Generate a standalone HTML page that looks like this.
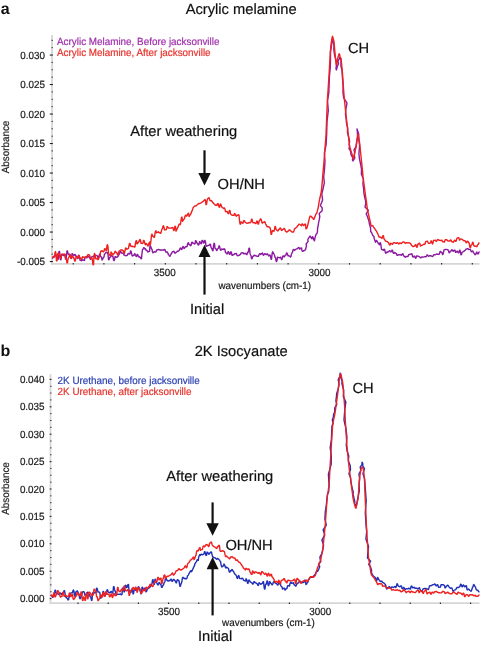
<!DOCTYPE html>
<html><head><meta charset="utf-8"><title>FTIR spectra</title>
<style>
html,body{margin:0;padding:0;background:#fff;}
body{width:482px;height:645px;overflow:hidden;}
svg{display:block;}
text{font-family:"Liberation Sans",Arial,Helvetica,sans-serif;fill:#111;text-rendering:geometricPrecision;}
.t14{font-size:14.7px;stroke:#111;stroke-width:0.2px;}
.t10{font-size:10.4px;fill:#1a1a1a;stroke:#1a1a1a;stroke-width:0.2px;}
.lg{font-size:10.4px;stroke-width:0.2px;}
.lbl{font-size:16px;font-weight:bold;fill:#111;}
.ax{stroke:#d6d6d6;stroke-width:1.8;fill:none;}
.tk{stroke:#222;stroke-width:1.1;}
.tm{stroke:#333;stroke-width:1.0;}
.cv{fill:none;stroke-width:1.4;stroke-linejoin:round;stroke-linecap:round;}
.ar{stroke:#111;stroke-width:2.2;}
</style></head><body>
<svg width="482" height="645" viewBox="0 0 482 645">
<rect width="482" height="645" fill="#fff"/>

<!-- panel a -->
<text x="0.7" y="14.4" class="lbl">a</text>
<text x="241.2" y="13.9" class="t14" text-anchor="middle">Acrylic melamine</text>
<line x1="52.0" y1="35" x2="52.0" y2="264.8" class="ax"/>
<line x1="51.1" y1="263.9" x2="479.5" y2="263.9" class="ax"/>
<line x1="51.5" y1="40.30" x2="52.9" y2="40.30" class="tm"/>
<line x1="51.5" y1="47.67" x2="52.9" y2="47.67" class="tm"/>
<line x1="49.8" y1="55.05" x2="52.9" y2="55.05" class="tk"/>
<line x1="51.5" y1="62.42" x2="52.9" y2="62.42" class="tm"/>
<line x1="51.5" y1="69.80" x2="52.9" y2="69.80" class="tm"/>
<line x1="51.5" y1="77.17" x2="52.9" y2="77.17" class="tm"/>
<line x1="49.8" y1="84.55" x2="52.9" y2="84.55" class="tk"/>
<line x1="51.5" y1="91.92" x2="52.9" y2="91.92" class="tm"/>
<line x1="51.5" y1="99.30" x2="52.9" y2="99.30" class="tm"/>
<line x1="51.5" y1="106.67" x2="52.9" y2="106.67" class="tm"/>
<line x1="49.8" y1="114.05" x2="52.9" y2="114.05" class="tk"/>
<line x1="51.5" y1="121.42" x2="52.9" y2="121.42" class="tm"/>
<line x1="51.5" y1="128.80" x2="52.9" y2="128.80" class="tm"/>
<line x1="51.5" y1="136.18" x2="52.9" y2="136.18" class="tm"/>
<line x1="49.8" y1="143.55" x2="52.9" y2="143.55" class="tk"/>
<line x1="51.5" y1="150.93" x2="52.9" y2="150.93" class="tm"/>
<line x1="51.5" y1="158.30" x2="52.9" y2="158.30" class="tm"/>
<line x1="51.5" y1="165.68" x2="52.9" y2="165.68" class="tm"/>
<line x1="49.8" y1="173.05" x2="52.9" y2="173.05" class="tk"/>
<line x1="51.5" y1="180.43" x2="52.9" y2="180.43" class="tm"/>
<line x1="51.5" y1="187.80" x2="52.9" y2="187.80" class="tm"/>
<line x1="51.5" y1="195.18" x2="52.9" y2="195.18" class="tm"/>
<line x1="49.8" y1="202.55" x2="52.9" y2="202.55" class="tk"/>
<line x1="51.5" y1="209.93" x2="52.9" y2="209.93" class="tm"/>
<line x1="51.5" y1="217.30" x2="52.9" y2="217.30" class="tm"/>
<line x1="51.5" y1="224.68" x2="52.9" y2="224.68" class="tm"/>
<line x1="49.8" y1="232.05" x2="52.9" y2="232.05" class="tk"/>
<line x1="51.5" y1="239.43" x2="52.9" y2="239.43" class="tm"/>
<line x1="51.5" y1="246.80" x2="52.9" y2="246.80" class="tm"/>
<line x1="51.5" y1="254.18" x2="52.9" y2="254.18" class="tm"/>
<line x1="49.8" y1="261.55" x2="52.9" y2="261.55" class="tk"/>
<line x1="73.20" y1="263.1" x2="73.20" y2="264.6" class="tk"/>
<line x1="103.90" y1="263.1" x2="103.90" y2="264.6" class="tk"/>
<line x1="134.60" y1="263.1" x2="134.60" y2="264.6" class="tk"/>
<line x1="165.30" y1="263.1" x2="165.30" y2="264.6" class="tk"/>
<line x1="196.00" y1="263.1" x2="196.00" y2="264.6" class="tk"/>
<line x1="226.70" y1="263.1" x2="226.70" y2="264.6" class="tk"/>
<line x1="257.40" y1="263.1" x2="257.40" y2="264.6" class="tk"/>
<line x1="288.10" y1="263.1" x2="288.10" y2="264.6" class="tk"/>
<line x1="318.80" y1="263.1" x2="318.80" y2="264.6" class="tk"/>
<line x1="349.50" y1="263.1" x2="349.50" y2="264.6" class="tk"/>
<line x1="380.20" y1="263.1" x2="380.20" y2="264.6" class="tk"/>
<line x1="410.90" y1="263.1" x2="410.90" y2="264.6" class="tk"/>
<line x1="441.60" y1="263.1" x2="441.60" y2="264.6" class="tk"/>
<line x1="472.30" y1="263.1" x2="472.30" y2="264.6" class="tk"/>
<text transform="translate(45,58.6) scale(0.95,1)" class="t10" text-anchor="end">0.030</text>
<text transform="translate(45,88.1) scale(0.95,1)" class="t10" text-anchor="end">0.025</text>
<text transform="translate(45,117.6) scale(0.95,1)" class="t10" text-anchor="end">0.020</text>
<text transform="translate(45,147.2) scale(0.95,1)" class="t10" text-anchor="end">0.015</text>
<text transform="translate(45,176.7) scale(0.95,1)" class="t10" text-anchor="end">0.010</text>
<text transform="translate(45,206.2) scale(0.95,1)" class="t10" text-anchor="end">0.005</text>
<text transform="translate(45,235.7) scale(0.95,1)" class="t10" text-anchor="end">0.000</text>
<text transform="translate(45,265.2) scale(0.95,1)" class="t10" text-anchor="end">-0.005</text>
<text transform="translate(9.2,147) rotate(-90) scale(0.95,1)" class="t10" text-anchor="middle">Absorbance</text>
<text transform="translate(164.8,275.6) scale(0.95,1)" class="t10" text-anchor="middle">3500</text>
<text transform="translate(319.6,275.6) scale(0.95,1)" class="t10" text-anchor="middle">3000</text>
<text transform="translate(218.4,289) scale(0.95,1)" class="t10">wavenumbers (cm-1)</text>
<text transform="translate(57,45.0) scale(0.95,1)" class="lg" style="fill:#a02eac;stroke:#a02eac">Acrylic Melamine, Before jacksonville</text>
<text transform="translate(57,55.6) scale(0.95,1)" class="lg" style="fill:#e8322c;stroke:#e8322c">Acrylic Melamine, After jacksonville</text>
<polyline class="cv" stroke="#8c1aa0" points="52.5,258.0 53.0,257.9 53.5,257.1 54.0,256.0 54.5,256.0 55.0,256.0 55.5,255.9 56.0,255.7 56.5,255.0 57.0,255.0 57.5,257.6 58.0,259.3 58.5,259.0 59.0,251.4 59.5,251.4 60.0,254.9 60.5,259.7 61.0,259.7 61.5,255.2 62.0,254.1 62.5,254.4 63.0,255.5 63.5,255.5 64.0,254.8 64.5,254.4 65.0,254.6 65.5,259.1 66.0,259.0 66.5,255.6 67.0,250.9 67.5,250.9 68.0,253.6 68.5,254.2 69.0,254.3 69.5,254.6 70.0,254.5 70.5,257.0 71.0,258.6 71.5,258.4 72.0,253.8 72.5,253.8 73.0,254.6 73.5,255.5 74.0,255.6 74.5,254.6 75.0,254.4 75.5,254.9 76.0,256.3 76.5,256.3 77.0,257.6 77.5,258.5 78.0,258.4 78.5,255.1 79.0,255.1 79.5,257.2 80.0,260.1 80.5,260.2 81.0,260.6 81.5,260.7 82.0,260.5 82.5,259.6 83.0,259.7 83.5,260.1 84.0,260.5 84.5,260.4 85.0,256.9 85.5,256.9 86.0,257.3 86.5,257.8 87.0,257.9 87.5,256.3 88.0,256.0 88.5,256.3 89.0,257.2 89.5,257.3 90.0,258.6 90.5,259.4 91.0,259.2 91.5,256.9 92.0,256.9 92.5,256.7 93.0,256.5 93.5,256.5 94.0,256.1 94.5,255.9 95.0,255.8 95.5,255.3 96.0,255.3 96.5,255.6 97.0,255.8 97.5,255.9 98.0,257.6 98.5,257.6 99.0,256.1 99.5,254.1 100.0,254.1 100.5,256.4 101.0,256.7 101.5,257.2 102.0,260.0 102.5,259.6 103.0,258.3 103.5,257.4 104.0,256.9 104.5,254.1 105.0,253.7 105.5,253.2 106.0,252.3 106.5,252.4 107.0,252.5 107.5,252.7 108.0,254.4 108.5,259.6 109.0,259.8 109.5,258.1 110.0,257.1 110.5,257.0 111.0,255.5 111.5,255.4 112.0,255.9 112.5,256.6 113.0,256.5 113.5,260.0 114.0,260.7 114.5,259.8 115.0,256.7 115.5,256.6 116.0,257.1 116.5,257.4 117.0,257.3 117.5,256.5 118.0,256.4 118.5,255.4 119.0,254.0 119.5,254.0 120.0,252.0 120.5,251.5 121.0,251.8 121.5,253.1 122.0,253.0 122.5,253.2 123.0,253.3 123.5,253.3 124.0,255.1 124.5,255.0 125.0,255.3 125.5,255.7 126.0,255.6 126.5,255.5 127.0,255.5 127.5,255.0 128.0,253.6 128.5,253.5 129.0,253.9 129.5,254.1 130.0,253.9 130.5,250.9 131.0,251.2 131.5,253.1 132.0,255.7 132.5,256.0 133.0,255.5 133.5,255.6 134.0,255.3 134.5,253.7 135.0,253.9 135.5,255.3 136.0,256.3 136.5,256.5 137.0,254.7 137.5,254.4 138.0,255.4 138.5,256.8 139.0,256.5 139.5,257.2 140.0,257.2 140.5,257.4 141.0,258.9 141.5,258.6 142.0,253.2 142.5,249.7 143.0,249.4 143.5,247.9 144.0,247.6 144.5,248.2 145.0,249.1 145.5,248.8 146.0,250.2 146.5,250.3 147.0,250.4 147.5,251.9 148.0,252.1 148.5,251.6 149.0,251.4 149.5,251.4 150.0,245.7 150.5,245.9 151.0,247.2 151.5,249.1 152.0,249.2 152.5,252.0 153.0,252.8 153.5,252.5 154.0,251.9 154.5,251.6 155.0,252.0 155.5,252.1 156.0,251.8 156.5,250.2 157.0,250.0 157.5,249.8 158.0,249.7 158.5,249.4 159.0,249.7 159.5,249.7 160.0,249.9 160.5,250.0 161.0,250.3 161.5,250.0 162.0,249.9 162.5,250.1 163.0,250.0 163.5,250.2 164.0,249.9 164.5,249.4 165.0,249.6 165.5,251.5 166.0,252.2 166.5,252.2 167.0,251.9 167.5,252.1 168.0,253.6 168.5,254.7 169.0,255.0 169.5,256.1 170.0,256.3 170.5,255.2 171.0,253.9 171.5,253.7 172.0,252.3 172.5,251.8 173.0,251.7 173.5,251.4 174.0,251.3 174.5,252.5 175.0,253.2 175.5,253.0 176.0,252.4 176.5,252.2 177.0,251.8 177.5,251.2 178.0,251.0 178.5,251.1 179.0,250.7 179.5,249.9 180.0,248.4 180.5,247.9 181.0,249.0 181.5,249.5 182.0,249.0 182.6,247.0 183.1,246.5 183.5,247.3 184.0,248.5 184.5,248.3 185.0,247.1 185.5,246.7 186.0,246.6 186.5,246.8 187.0,246.6 187.5,244.4 188.0,242.9 188.5,242.8 189.0,244.6 189.5,244.5 190.0,245.0 190.5,245.7 191.0,245.6 191.5,243.0 192.0,242.2 192.5,242.4 193.0,243.3 193.5,243.3 194.0,243.7 194.5,244.0 195.0,243.9 195.5,240.7 196.0,240.7 196.5,241.8 197.0,243.3 197.5,243.3 198.0,244.7 198.5,245.1 199.0,244.3 199.5,241.8 200.0,241.8 200.5,243.0 201.0,243.7 201.5,243.6 202.0,240.4 202.5,240.4 203.0,241.4 203.5,242.9 204.0,243.1 204.5,240.8 205.0,240.4 205.5,241.8 206.0,246.1 206.5,246.2 207.0,245.8 207.5,245.7 208.0,245.8 208.5,245.3 209.0,245.4 209.5,245.0 210.0,244.2 210.5,244.4 211.0,247.4 211.5,248.2 212.0,248.8 212.5,250.6 213.0,250.7 213.5,246.2 214.0,243.3 214.5,243.6 215.0,248.3 215.5,248.4 216.0,249.2 216.5,250.3 217.0,250.5 217.5,248.8 218.0,248.6 218.5,248.1 219.0,245.8 219.5,246.1 220.0,248.5 220.5,250.1 221.0,250.3 221.5,249.0 222.0,249.3 222.5,249.3 223.0,249.2 223.5,249.5 224.0,248.8 224.5,248.9 225.0,249.9 225.5,252.5 226.0,252.7 226.5,253.4 227.0,253.9 227.5,253.9 228.0,251.6 228.5,251.7 229.0,252.8 229.5,254.3 230.0,254.4 230.5,252.3 231.0,251.8 231.5,252.7 232.0,255.3 232.5,255.4 233.0,255.0 233.5,254.6 234.0,254.6 234.5,253.8 235.0,253.7 235.5,253.7 236.0,253.6 236.5,253.5 237.0,255.4 237.5,255.7 238.0,255.6 238.5,255.5 239.0,255.4 239.5,254.9 240.0,254.6 240.5,254.5 241.0,253.1 241.5,253.0 242.0,252.9 242.5,252.6 243.0,252.6 243.5,253.7 244.0,253.9 244.5,253.8 245.0,253.3 245.5,253.4 246.0,254.0 246.5,254.5 247.0,254.5 247.5,252.5 248.0,252.6 248.5,250.7 249.0,248.1 249.5,248.1 250.0,253.4 250.5,254.7 251.0,255.7 251.5,258.6 252.0,258.7 252.5,257.1 253.0,256.2 253.5,256.2 254.0,255.2 254.5,255.3 255.0,255.5 255.5,255.7 256.0,255.8 256.5,256.1 257.0,256.2 257.5,256.3 258.0,256.4 258.5,256.3 259.0,254.7 259.5,253.7 260.0,253.7 260.5,254.5 261.0,254.3 261.5,253.8 262.0,253.1 262.5,253.0 263.0,254.8 263.5,255.2 264.0,254.8 264.5,253.7 265.0,253.6 265.5,254.2 266.0,254.6 266.5,254.5 267.0,253.8 267.5,253.9 268.0,254.8 268.5,255.8 269.0,256.0 269.5,255.1 270.0,255.0 270.5,256.0 271.0,259.1 271.5,259.3 272.0,254.7 272.5,251.8 273.0,252.1 273.5,253.7 274.0,253.9 274.5,255.4 275.0,257.4 275.5,257.5 276.0,260.7 276.5,261.6 277.0,260.7 277.5,257.1 278.0,257.3 278.5,257.5 279.0,257.7 279.5,257.9 280.0,257.5 280.5,257.2 281.0,258.2 281.5,259.6 282.0,259.3 282.5,256.7 283.0,255.9 283.5,256.0 284.0,257.0 284.5,256.7 285.0,255.6 285.5,255.1 286.0,255.0 286.5,252.9 287.0,252.9 287.5,254.1 288.0,255.7 288.5,255.6 289.0,256.0 289.5,256.0 290.0,256.4 290.5,257.0 291.0,256.4 291.4,254.3 292.1,252.7 292.6,252.0 293.0,250.0 293.5,249.4 294.0,249.7 294.5,250.3 295.0,250.0 295.5,249.5 296.0,249.2 296.5,248.9 297.0,248.9 297.5,248.6 298.0,248.1 298.5,247.6 299.0,247.4 299.5,249.1 300.0,248.9 300.5,248.5 301.0,247.9 301.5,248.0 302.0,250.7 302.5,251.4 303.0,251.3 303.5,250.7 304.0,250.8 304.5,250.3 305.0,250.0 305.5,249.9 306.5,245.5 306.1,244.0 306.6,243.3 307.1,242.9 308.1,241.4 307.8,239.9 308.3,238.4 309.5,237.0 310.0,236.1 310.5,236.5 311.0,237.6 311.4,238.4 311.9,238.8 312.5,236.7 313.0,237.3 313.4,238.5 313.9,240.0 314.5,240.7 315.0,237.7 315.7,235.5 316.2,234.1 316.7,233.9 317.4,232.0 317.6,228.3 318.2,225.5 318.6,222.7 319.3,219.4 319.8,216.5 319.2,213.6 322.1,210.7 322.2,207.9 320.4,205.6 322.6,199.9 321.8,194.2 323.1,188.5 324.3,182.8 323.7,176.5 324.5,169.1 325.0,161.3 324.4,152.8 326.1,144.9 326.7,133.3 327.0,121.7 328.3,110.3 327.5,100.9 328.8,93.2 329.1,85.1 329.4,76.7 330.2,68.5 330.5,60.0 330.5,51.6 331.5,46.0 331.8,42.8 332.0,38.9 332.3,40.2 333.4,42.8 334.0,45.2 333.8,49.6 334.7,55.8 336.7,62.2 336.0,68.9 336.5,69.9 337.2,66.8 338.5,63.8 338.0,61.1 338.5,60.2 339.6,58.3 339.5,57.4 339.9,57.7 340.8,58.9 341.0,61.2 340.9,65.9 342.0,70.4 342.4,77.3 343.1,85.1 343.0,92.7 343.7,97.9 347.0,103.2 345.8,109.6 345.5,114.4 346.2,118.9 346.5,123.2 347.7,127.9 347.4,132.4 348.6,136.8 349.6,141.3 349.1,144.9 349.5,146.4 349.0,148.5 350.3,150.5 350.8,152.3 350.9,154.4 351.8,156.2 353.0,158.1 352.4,159.9 353.0,160.9 354.8,158.0 354.3,155.1 354.6,152.3 354.0,149.8 356.0,146.6 356.7,141.7 357.6,136.9 357.4,132.3 357.0,128.9 358.7,134.0 358.8,138.8 359.6,145.6 358.9,153.8 359.5,159.0 360.6,164.1 361.5,169.2 361.4,174.2 363.4,178.9 362.9,183.7 363.6,188.4 363.9,192.8 364.6,197.0 365.5,200.3 365.8,203.6 365.0,207.0 368.3,210.3 366.2,213.8 367.7,217.2 368.2,219.0 368.7,220.2 369.1,222.2 369.5,224.3 370.1,226.3 370.6,228.3 370.7,231.5 371.7,232.7 372.1,233.8 372.6,234.9 373.1,235.9 373.6,236.0 374.0,236.7 374.1,238.3 375.1,241.1 375.5,242.3 376.0,241.0 376.5,240.4 377.0,241.0 377.5,242.2 377.9,242.8 378.4,243.4 378.9,244.1 379.4,244.7 379.9,242.9 380.4,242.8 380.9,244.6 381.5,249.3 382.0,249.8 382.5,249.6 383.0,249.7 383.5,250.2 384.0,249.1 384.5,249.3 385.0,250.9 385.5,253.1 386.0,253.2 386.5,252.3 387.0,252.2 387.5,252.2 388.0,251.7 388.5,251.8 389.0,251.1 389.5,250.7 390.0,250.9 390.5,251.7 391.0,251.8 391.5,251.1 392.0,250.1 392.5,250.2 393.0,252.7 393.5,253.4 394.0,253.3 394.5,252.5 395.0,252.6 395.5,253.2 396.0,253.5 396.5,253.7 397.0,255.2 397.5,255.3 398.0,255.1 398.5,254.7 399.0,254.8 399.5,254.7 400.0,254.7 400.5,254.8 401.0,255.1 401.5,255.2 402.0,254.3 402.5,253.8 403.0,254.0 403.5,255.9 404.0,256.0 404.5,256.5 405.0,257.1 405.5,257.2 406.0,256.5 406.5,256.5 407.0,256.5 407.5,256.4 408.0,256.5 408.5,255.2 409.0,254.4 409.5,254.5 410.0,254.3 410.5,254.4 411.0,254.2 411.5,253.8 412.0,253.9 412.5,256.4 413.0,257.1 413.5,256.9 414.0,256.0 414.5,256.1 415.0,257.3 415.5,258.2 416.0,258.1 416.5,255.9 417.0,256.0 417.5,256.1 418.0,256.2 418.5,256.3 419.0,256.8 419.5,256.9 420.0,257.2 420.5,257.8 421.0,257.9 421.5,257.3 422.0,256.9 422.5,256.9 423.0,257.1 423.5,257.1 424.0,256.9 424.5,256.6 425.0,256.5 425.5,256.8 426.0,256.8 426.5,256.3 427.0,255.0 427.5,254.9 428.0,255.7 428.5,256.2 429.0,256.1 429.5,255.7 430.0,255.6 430.5,255.7 431.0,255.9 431.5,255.9 432.0,256.4 432.5,256.5 433.0,256.2 433.5,255.0 434.0,254.7 434.5,254.8 435.0,254.8 435.5,254.6 436.0,254.3 436.5,254.0 437.0,254.1 437.5,254.4 438.0,254.1 438.5,254.4 439.0,254.3 439.5,253.6 440.0,251.6 440.5,251.4 441.0,252.1 441.5,252.5 442.0,252.5 442.5,254.5 443.0,254.3 443.5,252.4 444.0,249.8 444.5,249.6 445.0,249.6 445.5,249.5 446.0,249.4 446.5,249.4 447.0,249.4 447.5,249.9 448.0,250.2 448.5,250.3 449.0,252.7 449.5,252.7 450.0,252.0 450.5,251.1 451.0,251.1 451.5,250.0 452.0,249.8 452.5,250.1 453.0,251.2 453.5,251.2 454.0,250.5 454.5,250.1 455.0,250.2 455.5,252.3 456.0,252.3 456.5,251.9 457.0,251.3 457.5,251.3 458.0,252.5 458.5,252.8 459.0,252.2 459.5,250.1 460.0,250.1 460.5,252.9 461.0,254.7 461.5,254.6 462.0,252.1 462.5,252.1 463.0,251.8 463.5,251.4 464.0,251.4 464.5,250.6 465.0,250.3 465.5,250.0 466.0,249.1 466.5,249.0 467.0,248.8 467.5,248.7 468.0,248.6 468.5,249.5 469.0,249.3 469.5,249.4 470.0,249.4 470.5,249.7 471.0,251.2 471.5,251.7 472.0,251.7 472.5,251.0 473.0,251.2 473.5,252.5 474.0,253.3 474.5,253.7 475.0,254.7 475.5,254.6 476.0,253.6 476.5,252.3 477.0,252.2 477.5,253.7 478.0,254.0 478.5,253.5 479.0,252.0"/>
<polyline class="cv" stroke="#ee2020" points="52.5,257.0 53.0,257.0 53.5,257.0 54.0,257.1 54.5,257.1 55.0,252.7 55.5,251.6 56.0,253.8 56.5,260.9 57.0,260.9 57.5,256.2 58.0,253.2 58.5,253.3 59.0,254.8 59.5,254.8 60.0,256.3 60.5,258.4 61.0,258.4 61.5,255.2 62.0,254.5 62.5,254.4 63.0,254.2 63.5,254.1 64.0,254.2 64.5,254.2 65.0,254.3 65.5,257.9 66.0,257.8 66.5,260.0 67.0,262.9 67.5,262.9 68.0,258.8 68.5,257.8 69.0,257.0 69.5,254.5 70.0,254.4 70.5,256.8 71.0,258.3 71.5,258.2 72.0,256.1 72.5,256.1 73.0,256.9 73.5,258.0 74.0,258.0 74.5,260.5 75.0,261.2 75.5,260.2 76.0,256.8 76.5,256.9 77.0,257.5 77.5,257.9 78.0,257.9 78.5,255.8 79.0,255.8 79.5,256.7 80.0,257.9 80.5,258.0 81.0,259.0 81.5,259.3 82.0,258.7 82.5,256.7 83.0,256.8 83.5,257.2 84.0,257.5 84.5,257.6 85.0,257.5 85.5,257.5 86.0,257.2 86.5,256.7 87.0,256.7 87.5,255.1 88.0,254.7 88.5,254.8 89.0,254.9 89.5,254.9 90.0,257.1 90.5,258.5 91.0,258.5 91.5,258.2 92.0,258.2 92.5,260.9 93.0,264.6 93.5,264.7 94.0,255.6 94.5,253.5 95.0,254.7 95.5,258.6 96.0,258.6 96.5,258.9 97.0,258.6 97.5,257.9 98.0,259.7 98.5,259.0 99.0,257.7 99.5,256.3 100.0,255.5 100.5,252.1 101.0,251.0 101.5,250.8 102.0,251.3 102.5,250.9 103.0,251.5 103.5,251.8 104.0,251.3 104.5,249.0 105.0,248.6 105.5,249.4 106.0,250.6 106.5,250.3 107.0,245.4 107.5,244.7 108.0,247.0 108.5,253.7 109.0,254.1 109.5,254.9 110.0,255.6 110.5,255.8 111.0,251.9 111.5,252.4 112.0,253.4 112.5,254.7 113.0,255.0 113.5,254.0 114.0,253.6 114.5,253.0 115.0,251.5 115.5,251.3 116.0,252.4 116.5,252.9 117.0,252.8 117.5,254.9 118.0,254.7 118.5,253.2 119.0,251.2 119.5,251.1 120.0,250.4 120.5,250.2 121.0,250.0 121.5,250.0 122.0,249.8 122.5,250.5 123.0,250.9 123.5,250.8 124.0,253.3 124.5,253.1 125.0,250.9 125.5,248.1 126.0,247.9 126.5,249.1 127.0,249.2 127.5,249.0 128.0,248.6 128.5,248.4 129.0,245.4 129.5,243.5 130.0,243.4 130.5,246.0 131.0,245.9 131.5,246.2 132.0,246.6 132.5,246.3 133.0,246.7 133.5,246.6 134.0,246.5 134.5,247.1 135.0,246.8 135.5,243.2 136.0,240.8 136.5,240.6 137.0,243.9 137.5,243.5 138.0,242.8 138.5,241.9 139.0,241.8 139.5,239.9 140.0,239.4 140.5,240.2 141.0,243.3 141.5,243.2 142.0,243.4 142.5,243.5 143.0,243.2 143.5,240.5 144.0,240.4 144.5,242.0 145.0,244.1 145.5,244.7 146.0,243.4 146.5,243.6 147.0,244.4 147.5,245.5 148.0,246.1 148.5,244.9 149.0,243.0 149.5,242.1 150.0,245.0 150.5,243.9 151.0,240.1 151.5,235.2 152.0,234.1 152.5,236.0 153.0,236.4 153.5,236.3 154.0,237.4 154.5,236.9 155.0,233.5 155.5,231.2 156.0,230.8 156.5,232.9 157.0,232.4 157.5,232.3 158.0,232.2 158.5,231.7 159.0,232.7 159.5,232.6 160.0,232.6 160.5,233.3 161.0,232.9 161.5,230.6 162.0,229.1 162.5,228.6 163.0,226.1 163.5,225.8 164.0,227.4 164.5,229.8 165.0,229.7 165.5,229.9 166.0,229.9 166.5,229.2 167.0,226.7 167.5,226.7 168.0,227.5 168.5,228.1 169.0,228.1 169.5,228.0 170.0,228.1 170.5,228.1 171.0,228.1 171.5,228.1 172.0,227.6 172.5,227.5 173.0,228.0 173.5,230.2 174.0,230.6 174.5,227.8 175.0,226.2 175.5,226.8 176.0,231.1 176.5,230.1 177.0,229.1 177.5,228.0 178.0,227.2 178.5,225.5 179.0,224.5 179.5,224.1 180.0,224.8 180.5,224.0 181.0,220.3 181.5,217.5 182.0,217.1 182.5,221.2 183.0,220.7 183.5,219.9 184.0,219.1 184.5,218.5 185.0,216.2 185.5,215.2 186.0,215.1 186.5,216.2 187.0,215.6 187.5,214.5 188.0,213.5 188.5,213.2 189.0,216.5 189.5,216.0 190.0,215.2 190.5,214.2 191.0,213.7 191.5,211.8 192.0,210.9 192.5,209.9 193.0,207.8 193.5,207.3 194.0,206.8 194.5,206.3 195.0,205.9 195.5,206.1 196.0,205.9 196.5,205.4 197.0,204.9 197.5,204.7 198.0,204.1 198.5,203.7 199.0,203.5 199.5,203.5 200.0,203.3 200.5,203.1 201.0,202.9 201.5,202.7 202.0,202.1 202.5,201.9 203.0,201.4 203.5,200.9 204.0,200.6 204.5,200.0 205.0,199.6 205.5,200.6 206.0,204.6 206.5,204.3 207.0,201.0 207.5,198.8 208.0,198.5 208.5,198.0 209.0,197.7 209.5,199.0 210.0,200.6 210.5,200.8 211.0,200.5 211.5,200.7 212.0,201.2 212.5,202.3 213.0,202.6 213.5,203.3 214.0,203.9 214.5,204.2 215.0,205.0 215.5,205.3 216.0,205.2 216.5,205.0 217.0,205.4 217.5,203.6 218.0,203.5 218.5,204.5 219.0,206.9 219.5,207.3 220.0,205.3 220.5,204.1 221.0,204.6 221.5,206.7 222.0,207.1 222.5,207.5 223.0,208.0 223.5,208.4 224.0,207.9 224.5,208.0 225.0,209.1 225.5,211.6 226.0,211.8 226.5,211.5 227.0,211.4 227.5,211.7 228.0,213.5 228.5,213.7 229.0,212.3 229.5,210.4 230.0,210.6 230.5,213.6 231.0,214.5 231.5,214.8 232.0,215.2 232.5,215.4 233.0,215.2 233.5,215.2 234.0,215.5 234.5,213.5 235.0,213.8 235.5,214.8 236.0,215.9 236.5,216.2 237.0,215.1 237.5,215.1 238.0,215.2 238.5,214.7 239.0,215.0 239.5,220.5 240.0,224.0 240.5,224.2 241.0,221.9 241.5,222.2 242.0,222.7 242.5,223.1 243.0,223.3 243.5,220.9 244.0,220.4 244.5,220.9 245.0,222.1 245.5,222.3 246.0,222.8 246.5,223.1 247.0,223.3 247.5,223.0 248.0,223.2 248.5,222.9 249.0,222.5 249.5,222.7 250.0,222.8 250.5,222.6 251.0,221.8 251.5,219.2 252.0,219.1 252.5,221.4 253.0,222.9 253.5,222.8 254.0,222.8 254.5,222.7 255.0,223.1 255.5,223.6 256.0,223.5 256.5,221.6 257.0,221.0 257.5,221.7 258.0,224.1 258.5,224.0 259.0,221.8 259.5,220.4 260.0,220.2 260.5,218.8 261.0,219.1 261.5,220.7 262.0,222.8 262.5,223.1 263.0,222.3 263.5,222.4 264.0,222.4 264.5,221.7 265.0,222.0 265.5,223.7 266.0,224.8 266.5,225.1 267.0,226.6 267.5,226.8 268.0,226.8 268.5,226.7 269.0,226.9 269.5,227.5 270.0,227.7 270.5,229.3 271.0,234.2 271.5,234.4 272.0,232.0 272.5,230.5 273.0,230.8 273.5,231.1 274.0,231.3 274.5,229.3 275.0,226.5 275.5,226.7 276.0,229.2 276.5,230.0 277.0,230.3 277.5,230.9 278.0,230.9 278.5,229.9 279.0,229.3 279.5,229.2 280.0,228.0 280.5,228.0 281.0,229.0 281.5,230.4 282.0,230.4 282.5,229.6 283.0,229.4 283.5,229.2 284.0,228.4 284.5,228.4 285.0,230.1 285.5,231.3 286.0,231.4 286.5,232.0 287.0,232.0 287.5,231.6 288.0,231.0 288.5,231.0 289.0,230.0 289.5,229.8 290.0,230.1 290.5,230.9 291.0,231.1 291.5,231.6 292.0,232.0 292.5,232.1 293.0,231.8 293.5,232.0 294.0,230.7 294.5,228.9 295.0,228.4 295.5,228.4 296.0,227.8 296.5,227.1 297.0,226.9 297.5,226.1 298.0,225.6 298.5,225.0 299.0,224.2 299.5,224.2 300.0,224.6 300.5,224.9 301.0,225.2 301.5,225.7 302.0,224.0 302.5,223.9 303.0,224.6 303.5,225.5 304.0,225.3 304.5,224.6 305.0,224.1 305.5,224.2 306.0,228.9 306.5,228.7 307.0,227.6 307.5,226.1 308.0,224.0 308.5,222.0 309.0,219.9 309.5,217.9 310.0,216.1 310.5,216.2 311.0,216.3 311.5,216.7 312.0,217.7 312.5,217.4 313.0,218.5 313.5,219.4 314.0,219.4 314.5,217.9 315.0,216.6 315.5,215.1 316.0,213.9 316.5,213.7 317.0,212.1 317.5,210.4 318.0,208.6 318.5,205.8 319.0,202.3 319.5,199.8 320.0,197.5 320.5,195.4 321.0,192.8 321.5,190.2 322.0,184.6 322.5,178.9 323.0,172.9 323.5,167.3 324.0,161.3 324.5,154.9 325.0,148.5 325.5,141.7 326.0,135.3 326.5,122.5 327.0,109.7 327.5,98.8 328.0,91.1 328.5,83.4 329.0,75.7 329.5,66.9 330.0,58.4 330.5,50.0 331.0,44.6 331.5,41.3 332.0,38.5 332.5,36.2 333.0,38.0 333.5,39.7 334.0,41.8 334.5,47.5 335.0,53.0 335.5,58.4 336.0,63.9 336.5,64.9 337.0,62.2 337.5,59.6 338.0,57.3 338.5,55.7 339.0,54.0 339.5,53.9 340.0,56.4 340.5,57.6 341.0,58.6 341.5,63.3 342.0,68.1 342.5,73.6 343.0,81.0 343.5,88.5 344.0,95.1 344.5,100.4 345.0,105.3 345.5,110.4 346.0,115.0 346.5,119.6 347.0,123.9 347.5,128.1 348.0,132.4 348.5,136.7 349.0,141.1 349.5,145.5 350.0,147.5 350.5,149.2 351.0,151.0 351.5,152.4 352.0,154.1 352.5,156.0 353.0,157.9 353.5,159.1 354.0,156.3 354.5,154.1 355.0,151.9 355.5,149.4 356.0,147.5 356.5,143.9 357.0,140.2 357.5,136.6 358.0,133.7 358.5,137.0 359.0,139.4 359.5,142.1 360.0,146.5 360.5,151.5 361.0,156.3 361.5,161.3 362.0,165.9 362.5,171.0 363.0,176.4 363.5,180.4 364.0,184.3 364.5,187.9 365.0,191.9 365.5,195.5 366.0,198.9 366.5,202.4 367.0,206.5 367.5,210.1 368.0,212.1 368.5,214.2 369.0,216.3 369.5,218.5 370.0,220.6 370.5,222.8 371.0,225.4 371.5,226.0 372.0,225.9 372.5,225.5 373.0,226.0 373.5,227.1 374.0,227.7 374.5,228.3 375.0,229.0 375.5,230.0 376.0,230.5 376.5,231.2 377.0,232.3 377.5,233.2 378.0,234.2 378.5,235.6 379.0,236.9 379.5,237.2 380.0,237.0 380.5,237.1 381.0,237.5 381.5,238.1 382.0,238.4 382.5,236.6 383.0,235.6 383.5,236.1 384.0,239.0 384.5,239.4 385.0,240.1 385.5,241.0 386.0,241.4 386.5,241.3 387.0,241.5 387.5,241.8 388.0,242.4 388.5,242.5 389.0,244.0 389.5,244.9 390.0,245.0 390.5,243.3 391.0,243.4 391.5,243.8 392.0,244.2 392.5,244.4 393.0,243.1 393.5,242.8 394.0,242.8 394.5,242.7 395.0,242.8 395.5,243.1 396.0,243.3 396.5,243.3 397.0,242.6 397.5,242.7 398.0,243.2 398.5,243.9 399.0,244.0 399.5,243.1 400.0,242.9 400.5,243.1 401.0,243.6 401.5,243.6 402.0,242.8 402.5,242.3 403.0,242.3 403.5,241.9 404.0,241.9 404.5,242.4 405.0,243.1 405.5,243.2 406.0,242.7 406.5,242.6 407.0,242.7 407.5,243.0 408.0,243.0 408.5,242.9 409.0,242.8 409.5,242.9 410.0,243.3 410.5,243.4 411.0,244.3 411.5,245.5 412.0,245.5 412.5,246.3 413.0,246.6 413.5,246.5 414.0,246.1 414.5,246.2 415.0,245.3 415.5,244.7 416.0,244.9 416.5,247.1 417.0,247.2 417.5,245.8 418.0,243.9 418.5,244.0 419.0,243.3 419.5,243.2 420.0,244.0 420.5,246.0 421.0,245.7 421.5,245.5 422.0,245.3 422.5,245.0 423.0,244.7 423.5,244.4 424.0,244.3 424.5,244.3 425.0,244.0 425.5,242.2 426.0,241.5 426.5,241.4 427.0,241.3 427.5,241.1 428.0,242.5 428.5,243.3 429.0,243.2 429.5,243.2 430.0,243.2 430.5,242.2 431.0,241.0 431.5,240.9 432.0,243.3 432.5,243.9 433.0,243.0 433.5,240.5 434.0,240.4 434.5,240.4 435.0,240.3 435.5,240.3 436.0,241.3 436.5,241.3 437.0,240.5 437.5,239.6 438.0,239.5 438.5,240.0 439.0,240.1 439.5,240.2 440.0,240.5 440.5,240.5 441.0,240.4 441.5,240.3 442.0,240.3 442.5,241.9 443.0,241.9 443.5,241.8 444.0,241.9 444.5,242.0 445.0,240.0 445.5,239.6 446.0,239.7 446.5,239.8 447.0,239.9 447.5,240.6 448.0,241.0 448.5,241.1 449.0,241.0 449.5,241.0 450.0,240.6 450.5,239.9 451.0,240.0 451.5,241.4 452.0,241.8 452.5,241.8 453.0,242.2 453.5,242.1 454.0,241.0 454.5,240.2 455.0,240.2 455.5,241.3 456.0,241.2 456.5,239.9 457.0,238.2 457.5,238.1 458.0,237.7 458.5,237.6 459.0,238.1 459.5,240.0 460.0,239.9 460.5,239.2 461.0,239.0 461.5,239.2 462.0,239.4 462.5,239.6 463.0,240.1 463.5,240.7 464.0,240.9 464.5,240.6 465.0,240.7 465.5,241.2 466.0,242.6 466.5,242.8 467.0,241.8 467.5,241.2 468.0,241.4 468.5,242.5 469.0,242.7 469.5,244.8 470.0,247.5 470.5,247.7 471.0,245.4 471.5,245.0 472.0,244.5 472.5,242.3 473.0,242.5 473.5,244.5 474.0,245.9 474.5,246.0 475.0,246.4 475.5,246.1 476.0,246.4 476.5,246.7 477.0,246.5 477.5,245.1 478.0,244.6 478.5,244.1 479.0,242.8"/>
<text x="130.3" y="135.9" class="t14">After weathering</text>
<line x1="204.5" y1="150.3" x2="204.5" y2="175.0" class="ar"/><polygon points="198.3,173.0 210.7,173.0 204.5,185.5" fill="#111"/>
<text x="217.6" y="188.5" class="t14">OH/NH</text>
<text x="348.0" y="52.8" class="t14">CH</text>
<line x1="204.5" y1="294.6" x2="204.5" y2="255.1" class="ar"/><polygon points="198.5,257.1 210.5,257.1 204.5,244.8" fill="#111"/>
<text x="190.0" y="314.1" class="t14">Initial</text>
<!-- panel b -->
<text x="0.5" y="356.2" class="lbl">b</text>
<text x="241.2" y="356.0" class="t14" text-anchor="middle">2K Isocyanate</text>
<line x1="50.5" y1="374" x2="50.5" y2="604.1" class="ax"/>
<line x1="49.6" y1="603.2" x2="479.5" y2="603.2" class="ax"/>
<line x1="49.7" y1="379.40" x2="51.5" y2="379.40" class="tk"/>
<line x1="50.1" y1="386.25" x2="51.5" y2="386.25" class="tm"/>
<line x1="50.1" y1="393.10" x2="51.5" y2="393.10" class="tm"/>
<line x1="50.1" y1="399.95" x2="51.5" y2="399.95" class="tm"/>
<line x1="49.7" y1="406.80" x2="51.5" y2="406.80" class="tk"/>
<line x1="50.1" y1="413.65" x2="51.5" y2="413.65" class="tm"/>
<line x1="50.1" y1="420.50" x2="51.5" y2="420.50" class="tm"/>
<line x1="50.1" y1="427.35" x2="51.5" y2="427.35" class="tm"/>
<line x1="49.7" y1="434.20" x2="51.5" y2="434.20" class="tk"/>
<line x1="50.1" y1="441.05" x2="51.5" y2="441.05" class="tm"/>
<line x1="50.1" y1="447.90" x2="51.5" y2="447.90" class="tm"/>
<line x1="50.1" y1="454.75" x2="51.5" y2="454.75" class="tm"/>
<line x1="49.7" y1="461.60" x2="51.5" y2="461.60" class="tk"/>
<line x1="50.1" y1="468.45" x2="51.5" y2="468.45" class="tm"/>
<line x1="50.1" y1="475.30" x2="51.5" y2="475.30" class="tm"/>
<line x1="50.1" y1="482.15" x2="51.5" y2="482.15" class="tm"/>
<line x1="49.7" y1="489.00" x2="51.5" y2="489.00" class="tk"/>
<line x1="50.1" y1="495.85" x2="51.5" y2="495.85" class="tm"/>
<line x1="50.1" y1="502.70" x2="51.5" y2="502.70" class="tm"/>
<line x1="50.1" y1="509.55" x2="51.5" y2="509.55" class="tm"/>
<line x1="49.7" y1="516.40" x2="51.5" y2="516.40" class="tk"/>
<line x1="50.1" y1="523.25" x2="51.5" y2="523.25" class="tm"/>
<line x1="50.1" y1="530.10" x2="51.5" y2="530.10" class="tm"/>
<line x1="50.1" y1="536.95" x2="51.5" y2="536.95" class="tm"/>
<line x1="49.7" y1="543.80" x2="51.5" y2="543.80" class="tk"/>
<line x1="50.1" y1="550.65" x2="51.5" y2="550.65" class="tm"/>
<line x1="50.1" y1="557.50" x2="51.5" y2="557.50" class="tm"/>
<line x1="50.1" y1="564.35" x2="51.5" y2="564.35" class="tm"/>
<line x1="49.7" y1="571.20" x2="51.5" y2="571.20" class="tk"/>
<line x1="50.1" y1="578.05" x2="51.5" y2="578.05" class="tm"/>
<line x1="50.1" y1="584.90" x2="51.5" y2="584.90" class="tm"/>
<line x1="50.1" y1="591.75" x2="51.5" y2="591.75" class="tm"/>
<line x1="49.7" y1="598.60" x2="51.5" y2="598.60" class="tk"/>
<line x1="78.00" y1="602.4" x2="78.00" y2="603.9" class="tk"/>
<line x1="108.20" y1="602.4" x2="108.20" y2="603.9" class="tk"/>
<line x1="138.40" y1="602.4" x2="138.40" y2="603.9" class="tk"/>
<line x1="168.60" y1="602.4" x2="168.60" y2="603.9" class="tk"/>
<line x1="198.80" y1="602.4" x2="198.80" y2="603.9" class="tk"/>
<line x1="229.00" y1="602.4" x2="229.00" y2="603.9" class="tk"/>
<line x1="259.20" y1="602.4" x2="259.20" y2="603.9" class="tk"/>
<line x1="289.40" y1="602.4" x2="289.40" y2="603.9" class="tk"/>
<line x1="319.60" y1="602.4" x2="319.60" y2="603.9" class="tk"/>
<line x1="349.80" y1="602.4" x2="349.80" y2="603.9" class="tk"/>
<line x1="380.00" y1="602.4" x2="380.00" y2="603.9" class="tk"/>
<line x1="410.20" y1="602.4" x2="410.20" y2="603.9" class="tk"/>
<line x1="440.40" y1="602.4" x2="440.40" y2="603.9" class="tk"/>
<line x1="470.60" y1="602.4" x2="470.60" y2="603.9" class="tk"/>
<text transform="translate(44.6,383.0) scale(0.95,1)" class="t10" text-anchor="end">0.040</text>
<text transform="translate(44.6,410.4) scale(0.95,1)" class="t10" text-anchor="end">0.035</text>
<text transform="translate(44.6,437.8) scale(0.95,1)" class="t10" text-anchor="end">0.030</text>
<text transform="translate(44.6,465.2) scale(0.95,1)" class="t10" text-anchor="end">0.025</text>
<text transform="translate(44.6,492.6) scale(0.95,1)" class="t10" text-anchor="end">0.020</text>
<text transform="translate(44.6,520.0) scale(0.95,1)" class="t10" text-anchor="end">0.015</text>
<text transform="translate(44.6,547.4) scale(0.95,1)" class="t10" text-anchor="end">0.010</text>
<text transform="translate(44.6,574.8) scale(0.95,1)" class="t10" text-anchor="end">0.005</text>
<text transform="translate(44.6,602.2) scale(0.95,1)" class="t10" text-anchor="end">0.000</text>
<text transform="translate(9.4,488.5) rotate(-90) scale(0.95,1)" class="t10" text-anchor="middle">Absorbance</text>
<text transform="translate(169,615) scale(0.95,1)" class="t10" text-anchor="middle">3500</text>
<text transform="translate(320.2,615) scale(0.95,1)" class="t10" text-anchor="middle">3000</text>
<text transform="translate(222.1,625.5) scale(0.95,1)" class="t10">wavenumbers (cm-1)</text>
<text transform="translate(57.6,383.8) scale(0.95,1)" class="lg" style="fill:#2b3fb2;stroke:#2b3fb2">2K Urethane, before jacksonville</text>
<text transform="translate(57.6,394.5) scale(0.95,1)" class="lg" style="fill:#e8322c;stroke:#e8322c">2K Urethane, after jacksonville</text>
<polyline class="cv" stroke="#2030b8" points="51.0,595.4 51.5,595.4 52.0,596.2 52.5,597.3 53.0,597.2 53.5,596.4 54.0,596.2 54.5,594.8 55.0,590.1 55.5,590.1 56.0,592.2 56.5,593.5 57.0,593.5 57.5,593.7 58.0,593.7 58.5,594.1 59.0,594.6 59.5,594.6 60.0,593.3 60.5,593.0 61.0,593.3 61.5,594.4 62.0,594.4 62.5,593.4 63.0,592.7 63.5,592.6 64.0,590.7 64.5,590.7 65.0,593.3 65.5,596.9 66.0,596.9 66.5,597.9 67.0,598.2 67.5,598.6 68.0,599.9 68.5,599.9 69.0,597.5 69.5,596.0 70.0,595.8 70.5,593.1 71.0,593.1 71.5,592.9 72.0,592.7 72.5,592.7 73.0,590.5 73.5,590.0 74.0,591.4 74.5,596.1 75.0,596.1 75.5,593.4 76.0,591.7 76.5,591.7 77.0,590.9 77.5,590.9 78.0,592.2 78.5,593.8 79.0,593.8 79.5,597.8 80.0,598.8 80.5,598.2 81.0,596.3 81.5,596.3 82.0,593.6 82.5,591.9 83.0,591.9 83.5,591.8 84.0,591.8 84.5,593.4 85.0,595.4 85.5,595.4 86.0,594.3 86.5,594.1 87.0,593.7 87.5,592.3 88.0,592.3 88.5,593.4 89.0,594.1 89.5,594.2 90.0,596.6 90.5,596.6 91.0,598.2 91.5,600.3 92.0,600.3 92.5,593.9 93.0,592.4 93.5,592.5 94.0,592.8 94.5,592.8 95.0,592.7 95.5,592.7 96.0,592.5 96.5,588.1 97.0,588.1 97.5,589.8 98.0,592.0 98.5,592.0 99.0,592.1 99.5,592.1 100.0,593.5 100.5,598.2 101.0,598.1 101.5,596.5 102.0,595.5 102.5,595.2 103.0,591.5 103.5,591.4 104.0,593.4 104.5,596.1 105.0,596.0 105.5,594.6 106.0,594.2 106.5,593.1 107.0,589.9 107.5,589.8 108.0,591.3 108.5,592.2 109.0,592.1 109.5,592.8 110.0,592.8 110.5,592.2 111.0,591.4 111.5,591.4 112.0,592.8 112.5,593.0 113.0,591.5 113.5,586.8 114.0,586.7 114.5,589.4 115.0,591.1 115.5,591.1 116.0,594.3 116.5,594.2 117.0,594.3 117.5,594.3 118.0,594.2 118.5,594.4 119.0,594.4 119.5,594.3 120.0,594.1 120.5,594.0 121.0,594.5 121.5,594.8 122.0,594.4 122.5,588.1 123.0,588.0 123.5,589.6 124.0,591.9 124.5,591.8 125.0,586.5 125.5,585.2 126.0,585.7 126.5,587.5 127.0,587.5 127.5,585.6 128.0,584.4 128.5,584.6 129.0,590.7 129.5,590.7 130.0,591.4 130.5,592.4 131.0,592.4 131.5,589.5 132.0,588.8 132.5,589.9 133.0,593.8 133.5,593.7 134.0,590.7 134.5,588.9 135.0,588.9 135.5,590.3 136.0,590.2 136.5,590.3 137.0,590.4 137.5,590.2 138.0,587.4 138.5,586.7 139.0,587.3 139.5,589.8 140.0,589.7 140.5,592.3 141.0,593.9 141.5,593.5 142.0,587.4 142.5,587.2 143.0,588.5 143.5,590.4 144.0,590.2 144.5,588.6 145.0,588.1 145.5,588.7 146.0,591.8 146.5,591.5 147.0,590.0 147.5,588.9 148.0,588.6 148.5,588.3 149.0,587.9 149.5,587.5 150.0,586.9 150.5,586.6 151.0,585.3 151.5,584.7 152.0,583.4 152.5,580.0 153.0,579.6 153.5,582.7 154.0,584.6 154.5,584.1 155.0,579.2 155.5,579.4 156.0,580.9 156.5,582.9 157.0,583.1 157.5,584.5 158.0,584.9 158.5,584.4 159.0,582.4 159.5,582.6 160.0,583.7 160.5,584.4 161.0,584.7 161.5,587.3 162.0,587.4 162.5,586.4 163.0,585.1 163.5,585.0 164.0,583.0 164.5,582.4 165.0,581.2 165.5,577.5 166.0,577.4 166.5,579.4 167.0,580.5 167.5,580.4 168.0,581.0 168.5,580.8 169.0,580.8 169.5,580.8 170.0,580.6 170.5,579.5 171.0,579.2 171.5,579.5 172.0,581.2 172.5,581.2 173.0,580.1 173.5,579.4 174.0,579.4 174.5,580.5 175.0,580.5 175.5,581.5 176.0,582.8 176.5,582.8 177.0,580.3 177.5,579.7 178.0,579.9 178.5,580.7 179.0,580.7 179.5,584.1 180.0,586.3 180.5,586.2 181.0,583.6 181.5,583.2 182.0,580.8 182.5,577.7 183.0,577.3 183.5,578.2 184.0,578.2 184.5,578.1 185.0,578.9 185.5,578.5 186.0,578.7 186.5,578.7 187.0,578.2 187.5,575.9 188.1,575.5 188.6,574.5 189.0,573.4 189.5,572.9 190.0,571.9 190.6,570.9 191.1,570.6 191.5,571.7 192.1,570.8 192.6,569.7 193.0,568.6 193.5,567.7 194.3,565.8 194.8,564.9 194.7,564.1 195.2,563.5 195.7,562.6 196.8,561.1 196.9,560.1 197.4,559.7 198.3,560.3 198.4,559.4 198.7,557.2 199.3,555.5 199.8,554.7 200.3,555.5 200.8,554.6 201.4,554.2 202.0,554.7 202.5,554.7 203.0,554.5 203.5,554.4 204.0,553.8 204.5,551.6 205.0,551.6 205.5,554.0 206.0,555.4 206.5,555.3 207.0,552.2 207.5,552.2 208.0,552.9 208.5,554.0 209.0,554.3 209.5,552.9 210.0,552.9 210.5,552.9 211.0,551.8 211.5,552.2 212.0,554.6 212.4,556.2 212.9,556.6 213.4,557.4 213.9,557.8 214.4,557.9 214.9,557.8 215.5,558.2 216.0,558.8 216.5,559.2 217.0,559.2 217.5,558.3 218.0,558.7 218.5,559.1 219.0,559.6 219.5,560.0 220.1,561.2 220.6,561.6 220.9,563.8 221.6,566.6 222.0,567.0 222.6,566.0 223.1,566.1 223.6,565.9 223.9,564.0 224.4,564.5 225.1,566.3 225.5,567.6 226.0,568.0 226.5,567.1 227.0,567.5 227.5,567.9 228.0,568.1 228.5,568.6 229.0,571.1 229.5,572.1 230.0,572.0 230.5,570.6 231.0,571.1 231.5,569.9 232.0,569.4 232.5,569.9 233.0,571.2 233.5,571.4 234.0,572.5 234.6,573.9 235.1,574.1 235.6,574.8 236.1,575.2 236.5,576.0 237.0,578.1 237.5,578.4 238.0,576.6 238.6,575.5 239.0,575.9 239.5,578.4 240.0,578.6 240.5,578.6 241.0,578.5 241.5,578.8 242.0,578.1 242.5,578.1 243.0,578.8 243.5,580.2 244.0,580.5 244.5,580.7 245.0,580.9 245.5,581.0 246.0,578.8 246.5,579.1 247.0,580.9 247.5,583.2 248.0,583.5 248.5,580.4 249.0,579.9 249.5,580.5 250.0,581.8 250.5,582.0 251.0,582.4 251.5,582.7 252.0,582.8 252.5,584.0 253.0,584.1 253.5,583.0 254.0,581.6 254.5,581.7 255.0,582.6 255.5,582.9 256.0,583.0 256.5,583.3 257.0,583.4 257.5,584.6 258.0,585.5 258.5,585.4 259.0,582.8 259.5,582.9 260.0,583.4 260.5,584.1 261.0,584.2 261.5,583.6 262.0,583.5 262.5,583.1 263.0,581.6 263.5,581.6 264.0,586.3 264.5,589.1 265.0,588.9 265.5,584.5 266.0,584.4 266.5,583.0 267.0,581.0 267.5,581.0 268.0,584.7 268.5,585.6 269.0,584.7 269.5,581.8 270.0,581.7 270.5,582.9 271.0,583.6 271.5,583.6 272.0,584.9 272.5,584.8 273.0,583.5 273.5,581.8 274.0,582.0 274.5,582.4 275.0,582.8 275.5,583.1 276.0,583.4 276.5,583.7 277.0,584.4 277.5,584.9 278.0,585.1 278.5,582.9 279.0,583.2 279.5,583.6 280.0,584.1 280.5,584.4 281.0,586.1 281.5,586.5 282.0,587.0 282.5,589.0 283.0,588.9 283.5,588.4 284.0,588.1 284.5,588.1 285.0,590.0 285.5,589.9 286.0,589.2 286.5,588.3 287.0,588.3 287.5,586.0 288.0,585.5 288.5,585.6 289.0,586.0 289.5,586.0 290.0,583.7 290.5,582.2 291.0,582.2 291.5,583.4 292.0,583.3 292.5,583.1 293.0,582.8 293.5,582.7 294.0,584.6 294.5,585.0 295.0,585.2 295.5,586.1 296.0,586.0 296.5,584.6 297.0,583.6 297.5,583.5 298.0,582.9 298.5,582.8 299.0,582.0 299.5,581.0 300.0,580.9 300.5,582.3 301.0,582.4 301.5,582.3 302.0,582.7 302.5,582.4 303.0,582.5 303.5,582.5 304.0,582.2 304.5,580.3 305.0,580.0 305.5,581.9 306.0,584.5 306.5,584.2 307.0,583.1 307.5,582.6 308.0,581.8 308.5,579.6 309.0,579.3 309.5,578.4 310.0,577.7 310.5,577.4 311.0,577.5 311.5,577.1 312.0,577.1 312.5,577.3 313.0,576.9 313.6,576.0 314.6,575.0 315.1,574.3 315.6,574.0 315.5,573.1 316.0,572.6 316.5,571.9 317.1,571.1 317.5,571.4 318.1,570.5 318.8,569.1 319.8,566.6 318.5,564.5 320.8,561.5 320.2,559.2 319.9,557.2 321.0,555.2 321.9,553.2 322.6,550.1 323.6,545.0 321.9,540.0 324.8,534.8 323.1,529.8 326.3,525.2 324.9,519.0 325.3,511.9 326.4,504.3 327.1,497.0 327.5,494.1 328.7,491.8 328.8,488.7 329.1,484.9 328.4,474.1 331.2,464.4 331.3,456.0 330.2,447.6 331.4,439.7 331.7,431.8 332.0,426.1 333.1,422.9 332.3,420.1 333.3,417.3 333.6,414.6 334.7,411.8 334.7,408.0 336.8,404.3 335.9,400.7 336.4,396.9 336.7,393.4 338.2,389.0 339.1,384.4 338.2,379.7 340.0,376.3 340.2,373.1 340.7,373.8 341.2,376.9 341.0,378.1 341.5,379.6 342.1,381.3 341.9,383.6 343.7,390.2 343.3,396.4 345.8,402.1 344.7,410.7 344.0,420.1 346.1,429.4 346.9,437.4 346.3,445.3 347.1,450.9 348.8,455.9 348.3,460.7 350.2,465.6 350.5,469.5 348.9,473.8 350.6,477.7 350.9,481.6 351.6,485.3 352.3,488.6 353.2,491.6 353.1,494.7 353.6,496.5 354.1,498.7 354.6,500.5 354.9,503.4 355.9,505.9 356.3,506.5 356.9,502.8 357.4,501.0 357.6,499.1 358.1,497.1 359.3,490.9 359.1,484.4 359.6,478.1 358.9,474.0 360.8,470.5 360.2,466.9 362.0,464.7 362.0,462.1 362.9,463.8 362.7,465.9 364.5,468.7 362.9,473.6 364.6,478.6 365.4,489.8 366.2,500.8 365.3,512.6 366.0,524.4 366.7,531.6 365.9,539.0 368.6,546.4 367.7,553.8 367.5,557.9 370.6,561.2 368.7,564.3 370.6,567.2 371.5,570.0 371.5,572.7 372.4,574.5 372.9,575.4 373.1,576.0 373.6,576.1 374.1,576.8 374.6,577.0 375.1,577.3 375.6,578.1 376.0,580.3 376.5,581.2 377.0,579.7 377.5,577.5 378.0,577.8 378.5,579.2 379.0,579.8 379.5,580.3 380.0,581.3 380.5,581.6 381.0,581.2 381.5,581.1 382.0,581.4 382.5,582.3 383.0,582.6 383.5,582.9 384.0,583.2 384.5,583.5 385.0,584.2 385.4,584.6 385.9,585.8 386.5,588.9 387.0,589.0 387.5,588.0 388.0,587.4 388.5,587.5 389.0,586.7 389.5,586.8 390.0,587.3 390.5,588.0 391.0,588.1 391.5,587.1 392.0,586.9 392.5,587.1 393.0,587.6 393.5,587.3 394.0,587.0 394.5,586.6 395.0,586.4 395.5,587.6 396.0,587.3 396.5,585.8 397.0,583.7 397.5,584.0 398.0,585.6 398.5,586.2 399.0,586.4 399.5,586.5 400.0,586.8 400.5,586.1 401.0,585.8 401.5,586.2 402.0,588.4 402.5,588.7 403.0,588.2 403.5,587.4 404.0,587.4 404.5,589.1 405.0,589.5 405.5,589.3 406.0,588.7 406.5,588.7 407.0,588.8 407.5,588.9 408.0,588.9 408.5,588.3 409.0,588.3 409.5,588.6 410.0,589.0 410.5,589.0 411.0,586.5 411.5,586.0 412.0,586.4 412.5,587.8 413.0,587.8 413.5,587.5 414.0,587.3 414.5,587.4 415.0,588.3 415.5,588.3 416.0,588.2 416.5,588.1 417.0,588.1 417.5,588.8 418.0,589.0 418.5,588.7 419.0,587.7 419.5,587.7 420.0,589.4 420.5,590.5 421.0,590.6 421.5,591.6 422.0,591.6 422.5,590.4 423.0,588.9 423.5,588.8 424.0,588.6 424.5,588.5 425.0,588.4 425.5,588.5 426.0,588.4 426.5,588.9 427.0,589.1 427.5,589.0 428.0,589.6 428.5,589.4 429.0,587.9 429.5,585.9 430.0,585.8 430.5,585.8 431.0,585.7 431.5,585.5 432.0,585.1 432.5,585.0 433.0,584.7 433.5,584.6 434.0,584.6 434.5,584.0 435.0,584.0 435.5,584.8 436.0,585.9 436.5,585.9 437.0,584.9 437.5,584.7 438.0,585.3 438.5,587.3 439.0,587.3 439.5,587.1 440.0,587.0 440.5,587.0 441.0,584.8 441.5,584.8 442.0,584.7 442.5,584.6 443.0,584.7 443.5,585.0 444.0,585.1 444.5,585.8 445.0,587.8 445.5,587.9 446.0,586.7 446.5,586.0 447.0,586.0 447.5,585.1 448.0,585.3 448.5,586.0 449.0,587.0 449.5,587.3 450.0,588.0 450.5,588.3 451.0,588.3 451.5,587.9 452.0,588.1 452.5,589.9 453.0,591.1 453.5,591.3 454.0,590.3 454.5,590.1 455.0,589.8 455.5,589.6 456.0,589.3 456.5,588.0 457.0,587.5 457.5,587.4 458.0,587.7 458.5,587.5 459.0,587.1 459.5,586.8 460.0,586.5 460.5,584.2 461.0,584.2 461.5,585.3 462.0,586.9 462.5,586.9 463.0,585.3 463.5,584.9 464.0,585.4 464.5,586.7 465.0,586.8 465.5,586.1 466.0,585.7 466.5,585.9 467.0,589.6 467.5,589.9 468.0,589.5 468.5,589.0 469.0,589.3 469.5,590.1 470.0,590.5 470.5,590.8 471.0,591.2 471.5,590.6 472.1,588.6 472.6,587.2 473.1,586.7 473.4,585.0 473.9,584.5 474.4,585.3 475.1,586.8 475.6,587.3 476.0,589.1 476.5,589.9 477.0,590.2 477.5,590.1 478.0,590.6 478.5,591.5 479.0,591.8"/>
<polyline class="cv" stroke="#ee2020" points="51.0,595.2 51.5,595.2 52.0,595.9 52.5,596.8 53.0,596.8 53.5,593.5 54.0,592.7 54.5,593.6 55.0,596.8 55.5,596.8 56.0,595.2 56.5,594.2 57.0,594.0 57.5,590.6 58.0,590.6 58.5,591.5 59.0,592.7 59.5,592.7 60.0,596.2 60.5,597.1 61.0,596.9 61.5,596.3 62.0,596.3 62.5,593.8 63.0,592.2 63.5,592.4 64.0,596.2 64.5,596.2 65.0,595.8 65.5,595.4 66.0,595.4 66.5,596.2 67.0,596.4 67.5,596.4 68.0,596.5 68.5,596.5 69.0,594.3 69.5,593.0 70.0,593.1 70.5,596.6 71.0,596.6 71.5,595.6 72.0,594.3 72.5,594.3 73.0,598.5 73.5,599.5 74.0,599.2 74.5,598.0 75.0,598.0 75.5,596.8 76.0,596.0 76.5,595.9 77.0,592.7 77.5,592.7 78.0,593.6 78.5,595.0 79.0,595.0 79.5,595.6 80.0,595.8 80.5,594.9 81.0,592.0 81.5,592.0 82.0,597.3 82.5,600.5 83.0,600.4 83.5,597.0 84.0,597.0 84.5,598.4 85.0,600.3 85.5,600.3 86.0,594.2 86.5,592.7 87.0,594.1 87.5,598.7 88.0,598.7 88.5,594.6 89.0,592.1 89.5,592.2 90.0,593.0 90.5,593.0 91.0,594.2 91.5,595.9 92.0,595.9 92.5,595.3 93.0,595.2 93.5,593.8 94.0,589.2 94.5,589.2 95.0,590.5 95.5,591.3 96.0,591.5 96.5,596.5 97.0,596.5 97.5,598.3 98.0,600.6 98.5,600.6 99.0,599.1 99.5,598.7 100.0,597.8 100.5,594.8 101.0,594.8 101.5,596.2 102.0,597.1 102.5,596.9 103.0,592.5 103.5,592.5 104.0,594.0 104.5,596.2 105.0,596.1 105.5,592.3 106.0,591.4 106.5,592.0 107.0,594.3 107.5,594.3 108.0,594.3 108.5,594.2 109.0,594.3 109.5,596.8 110.0,596.8 110.5,595.6 111.0,594.1 111.5,594.0 112.0,596.9 112.5,597.5 113.0,596.5 113.5,593.4 114.0,593.3 114.5,594.7 115.0,595.6 115.5,595.5 116.0,595.5 116.5,595.4 117.0,592.0 117.5,587.5 118.0,587.4 118.5,590.5 119.0,591.1 119.5,591.2 120.0,591.7 120.5,591.6 121.0,590.2 121.5,589.3 122.0,589.3 122.5,590.5 123.0,590.4 123.5,588.6 124.0,586.1 124.5,586.0 125.0,589.6 125.5,590.4 126.0,590.5 126.5,590.9 127.0,590.8 127.5,590.1 128.0,589.6 128.5,589.8 129.0,595.3 129.5,595.2 130.0,593.4 130.5,590.9 131.0,590.8 131.5,589.9 132.0,589.7 132.5,589.1 133.0,587.5 133.5,587.4 134.0,588.8 134.5,589.6 135.0,589.4 135.5,587.1 136.0,587.1 136.5,589.2 137.0,592.2 137.5,592.0 138.0,588.7 138.5,587.8 139.0,588.0 139.5,589.0 140.0,588.8 140.5,591.6 141.0,593.3 141.5,593.1 142.0,592.0 142.5,591.9 143.0,590.8 143.5,589.4 144.0,589.2 144.5,590.7 145.0,590.9 145.5,590.0 146.0,587.5 146.5,587.3 147.0,588.1 147.5,588.6 148.0,588.4 148.5,586.8 149.0,586.7 149.5,585.7 150.0,584.3 150.5,584.1 151.0,585.6 151.5,585.8 152.0,585.8 152.5,586.6 153.0,586.4 153.5,584.5 154.0,583.2 154.5,582.9 155.0,581.2 155.5,581.0 156.0,581.3 156.5,581.7 157.0,581.5 157.5,578.3 158.0,577.3 158.5,577.7 159.0,579.9 159.5,579.6 160.0,578.8 160.5,578.2 161.0,578.1 161.5,583.8 162.0,583.4 162.5,581.3 163.0,578.5 163.5,578.1 164.0,575.7 164.5,574.9 165.0,575.5 165.5,578.5 166.0,578.1 166.5,577.1 167.0,576.3 167.5,576.1 168.0,576.3 168.5,576.1 169.0,575.8 169.5,575.5 170.0,575.3 170.5,575.0 171.0,574.7 171.5,574.3 172.0,573.2 172.5,573.0 173.0,574.3 173.5,575.0 174.0,574.8 174.5,573.7 175.0,573.5 175.5,572.3 176.0,570.9 176.5,570.7 177.0,570.7 177.5,570.5 178.0,570.0 178.5,569.0 179.0,568.7 179.5,569.4 180.0,569.8 180.5,569.5 181.0,570.1 181.5,569.8 182.0,569.4 182.5,569.1 183.0,568.8 183.5,568.4 184.0,568.0 184.5,567.4 185.0,566.1 185.5,565.8 186.0,567.1 186.5,567.7 187.0,567.0 187.5,564.0 188.0,563.5 188.5,562.9 189.0,562.4 189.5,561.8 190.0,560.8 190.5,560.1 191.0,559.7 191.5,559.6 192.0,559.0 192.5,558.2 193.0,557.5 193.5,557.1 194.0,559.5 194.5,559.0 195.0,557.6 195.5,555.9 196.0,555.3 196.5,551.9 197.0,550.6 197.5,550.4 198.0,550.9 198.5,550.3 199.0,549.0 199.5,548.0 200.0,547.5 200.5,550.3 201.0,549.7 201.5,549.6 202.0,549.6 202.5,549.2 203.0,546.7 203.5,545.9 204.0,546.0 204.5,546.8 205.0,546.5 205.5,545.5 206.0,544.7 206.5,544.5 207.0,545.0 207.5,544.8 208.0,545.5 208.5,546.5 209.0,546.3 209.5,543.5 210.0,542.9 210.5,542.8 211.0,542.0 211.5,542.2 212.0,544.2 212.5,545.6 213.0,545.8 213.5,546.4 214.0,546.7 214.5,546.9 215.0,547.2 215.5,547.4 216.0,548.2 216.5,548.5 217.0,548.1 217.5,546.4 218.0,546.8 218.5,545.8 219.0,545.3 219.5,545.9 220.0,550.8 220.5,551.3 221.0,551.2 221.5,550.9 222.0,551.3 222.5,550.6 223.0,550.7 223.5,551.1 224.0,551.4 224.5,551.8 225.0,554.4 225.5,556.2 226.0,556.6 226.5,556.1 227.0,556.6 227.5,557.0 228.0,557.5 228.5,557.8 229.0,558.4 229.5,558.8 230.0,558.6 230.5,557.0 231.0,557.3 231.5,556.8 232.0,556.6 232.5,556.9 233.0,557.7 233.5,558.0 234.0,558.0 234.5,557.9 235.0,558.2 235.5,559.7 236.0,560.3 236.5,560.3 237.0,559.8 237.5,560.1 238.0,561.1 238.5,561.9 239.0,562.2 239.5,562.3 240.0,562.7 240.5,563.4 241.0,564.2 241.5,564.6 242.0,565.8 242.5,566.4 243.0,567.0 243.5,568.2 244.0,568.5 244.5,569.1 245.0,569.6 245.5,569.9 246.0,568.3 246.5,568.6 247.0,569.0 247.5,569.2 248.0,569.6 248.5,568.9 249.0,569.0 249.5,570.0 250.0,572.2 250.5,572.5 251.0,573.6 251.5,574.3 252.0,574.3 252.5,571.0 253.0,571.1 253.5,572.0 254.0,573.1 254.5,573.2 255.0,572.0 255.5,571.8 256.0,572.0 256.5,572.3 257.0,572.4 257.5,572.9 258.0,573.3 258.5,573.4 259.0,572.5 259.5,572.7 260.0,573.5 260.5,574.6 261.0,574.7 261.5,572.0 262.0,571.5 262.5,571.8 263.0,572.6 263.5,572.8 264.0,573.6 264.5,574.2 265.0,574.3 265.5,573.2 266.0,573.4 266.5,574.5 267.0,575.9 267.5,576.1 268.0,573.8 268.5,573.3 269.0,574.0 269.5,575.7 270.0,575.9 270.5,574.8 271.0,574.3 271.5,574.5 272.0,576.9 272.5,577.1 273.0,577.9 273.5,578.9 274.0,579.1 274.5,581.7 275.0,582.4 275.5,582.3 276.0,581.3 276.5,581.5 277.0,582.0 277.5,582.4 278.0,582.5 278.5,580.3 279.0,580.5 279.5,581.9 280.0,583.8 280.5,583.8 281.0,581.1 281.5,580.4 282.0,580.3 282.5,579.9 283.0,579.9 283.5,579.1 284.0,578.6 284.5,578.7 285.0,580.8 285.5,580.9 286.0,581.7 286.5,582.8 287.0,582.8 287.5,580.7 288.0,580.2 288.5,580.3 289.0,580.5 289.5,580.5 290.0,580.7 290.5,580.9 291.0,580.9 291.5,580.9 292.0,580.9 292.5,580.6 293.0,580.2 293.5,580.2 294.0,579.3 294.5,579.1 295.0,580.1 295.5,583.4 296.0,583.5 296.5,580.4 297.0,578.5 297.5,578.5 298.0,579.5 298.5,579.5 299.0,580.4 299.5,581.7 300.0,581.7 300.5,583.0 301.0,583.3 301.5,582.9 302.0,581.5 302.5,581.5 303.0,581.1 303.5,580.9 304.0,580.9 304.5,581.0 305.0,581.0 305.5,580.7 306.0,580.2 306.5,580.1 307.0,581.4 307.5,581.7 308.0,581.1 308.5,579.5 309.0,579.1 309.5,577.9 310.0,577.1 310.5,576.7 311.0,577.0 311.5,576.6 312.0,576.7 312.5,577.1 313.0,576.7 313.5,577.3 314.0,576.8 314.5,576.1 315.0,575.9 315.5,575.0 316.0,572.7 316.5,570.9 317.0,569.9 317.5,567.6 318.0,566.7 318.5,566.0 319.0,564.2 319.5,562.2 320.0,562.3 320.5,560.8 321.0,558.6 321.5,555.6 322.0,553.6 322.5,551.7 323.0,547.3 323.5,542.3 324.0,537.7 324.5,532.7 325.0,527.4 325.5,521.2 326.0,514.0 326.5,507.0 327.0,499.9 327.5,495.2 328.0,492.0 328.5,488.8 329.0,485.6 329.5,478.0 330.0,467.5 330.5,459.5 331.0,451.0 331.5,442.9 332.0,435.0 332.5,427.0 333.0,423.5 333.5,420.4 334.0,417.9 334.5,416.0 335.0,413.2 335.5,409.7 336.0,406.0 336.5,402.4 337.0,398.9 337.5,395.3 338.0,391.2 338.5,386.5 339.0,381.9 339.5,377.6 340.0,374.7 340.5,373.8 341.0,375.2 341.5,377.1 342.0,379.2 342.5,381.4 343.0,384.8 343.5,391.7 344.0,397.9 344.5,404.8 345.0,414.2 345.5,423.5 346.0,431.6 346.5,439.4 347.0,447.1 347.5,451.7 348.0,456.7 348.5,462.0 349.0,466.9 349.5,470.8 350.0,474.4 350.5,478.3 351.0,482.4 351.5,486.5 352.0,490.2 352.5,493.9 353.0,497.9 353.5,500.4 354.0,502.5 354.5,504.6 355.0,506.1 355.5,507.8 356.0,508.2 356.5,505.5 357.0,503.3 357.5,501.0 358.0,498.9 358.5,492.5 359.0,486.1 359.5,479.6 360.0,475.2 360.5,472.0 361.0,469.0 361.5,467.7 362.0,467.1 362.5,467.2 363.0,468.2 363.5,470.0 364.0,474.5 364.5,480.6 365.0,493.1 365.5,505.1 366.0,517.0 366.5,527.2 367.0,535.0 367.5,542.7 368.0,550.5 368.5,557.3 369.0,560.7 369.5,563.1 370.0,566.3 370.5,569.8 371.0,573.4 371.5,574.9 372.0,575.4 372.5,576.1 373.0,576.7 373.5,577.0 374.0,577.8 374.5,578.6 375.0,579.4 375.5,580.2 376.0,581.2 376.5,582.0 377.0,583.0 377.5,584.4 378.0,584.6 378.5,583.8 379.0,583.8 379.5,583.9 380.0,583.7 380.5,584.0 381.0,583.8 381.5,583.8 382.0,584.2 382.5,586.2 383.0,586.4 383.5,586.2 384.0,585.8 384.5,586.0 385.0,586.4 385.5,586.7 386.0,587.1 386.5,587.9 387.0,588.1 387.5,588.1 388.0,588.1 388.5,588.3 389.0,587.9 389.5,588.1 390.0,588.2 390.5,588.4 391.0,588.6 391.5,589.8 392.0,590.1 392.5,590.0 393.0,589.6 393.5,589.7 394.0,589.9 394.5,590.1 395.0,590.2 395.5,590.2 396.0,590.3 396.5,590.1 397.0,589.7 397.5,589.8 398.0,590.3 398.5,590.5 399.0,590.5 399.5,590.3 400.0,590.4 400.5,591.2 401.0,591.8 401.5,591.8 402.0,591.3 402.5,591.4 403.0,590.6 403.5,589.6 404.0,589.7 404.5,590.7 405.0,591.0 405.5,591.4 406.0,592.5 406.5,592.6 407.0,591.9 407.5,591.6 408.0,591.6 408.5,591.2 409.0,591.3 409.5,591.8 410.0,592.6 410.5,592.6 411.0,591.3 411.5,591.1 412.0,591.3 412.5,592.0 413.0,592.0 413.5,592.2 414.0,592.4 414.5,592.4 415.0,592.6 415.5,592.5 416.0,591.8 416.5,590.9 417.0,590.8 417.5,590.4 418.0,590.3 418.5,590.8 419.0,592.6 419.5,592.5 420.0,591.4 420.5,590.7 421.0,590.7 421.5,591.0 422.0,591.0 422.5,592.0 423.0,593.3 423.5,593.3 424.0,591.6 424.5,591.2 425.0,590.8 425.5,589.5 426.0,589.5 426.5,592.1 427.0,593.7 427.5,593.7 428.0,592.8 428.5,592.8 429.0,592.6 429.5,592.2 430.0,592.2 430.5,593.8 431.0,594.2 431.5,593.8 432.0,592.1 432.5,592.1 433.0,592.6 433.5,593.0 434.0,592.9 434.5,591.8 435.0,591.8 435.5,591.6 436.0,591.4 436.5,591.4 437.0,592.1 437.5,592.2 438.0,592.3 438.5,592.7 439.0,592.7 439.5,592.8 440.0,592.9 440.5,592.9 441.0,592.9 441.5,592.9 442.0,592.3 442.5,591.4 443.0,591.4 443.5,591.5 444.0,591.6 444.5,592.0 445.0,593.5 445.5,593.5 446.0,593.1 446.5,592.8 447.0,592.8 447.5,592.2 448.0,592.3 448.5,592.7 449.0,593.3 449.5,593.3 450.0,593.6 450.5,593.7 451.0,593.7 451.5,593.7 452.0,593.8 452.5,592.8 453.0,592.2 453.5,592.2 454.0,592.3 454.5,592.4 455.0,592.9 455.5,593.6 456.0,593.6 456.5,594.1 457.0,594.3 457.5,593.8 458.0,592.2 458.5,592.3 459.0,592.7 459.5,592.9 460.0,593.0 460.5,593.2 461.0,593.3 461.5,593.9 462.0,594.6 462.5,594.7 463.0,593.3 463.5,593.1 464.0,593.9 464.5,596.6 465.0,596.6 465.5,595.5 466.0,594.8 466.5,594.8 467.0,594.7 467.5,594.7 468.0,595.4 468.5,596.2 469.0,596.2 469.5,595.1 470.0,594.8 470.5,594.8 471.0,594.7 471.5,595.0 472.0,594.8 472.5,594.8 473.0,595.1 473.5,595.6 474.0,595.9 474.5,595.6 475.0,595.2 475.5,595.5 476.0,596.3 476.5,596.3 477.0,596.3 477.5,596.4 478.0,596.2 478.5,595.5 479.0,595.0"/>
<text x="166.3" y="481.3" class="t14">After weathering</text>
<line x1="212.6" y1="502.4" x2="212.6" y2="525.3" class="ar"/><polygon points="206.4,523.3 218.8,523.3 212.6,535.8" fill="#111"/>
<text x="225.4" y="550" class="t14">OH/NH</text>
<text x="352.4" y="393" class="t14">CH</text>
<line x1="212.6" y1="615.4" x2="212.6" y2="567.2" class="ar"/><polygon points="206.6,569.2 218.6,569.2 212.6,556.9" fill="#111"/>
<text x="198.0" y="640.9" class="t14">Initial</text>
</svg>
</body></html>
